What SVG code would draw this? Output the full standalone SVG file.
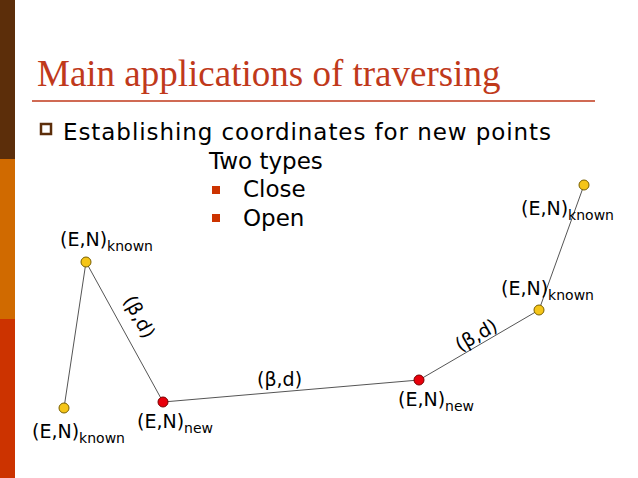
<svg xmlns="http://www.w3.org/2000/svg" width="638" height="478" viewBox="0 0 638 478">
<style>
.t{font-family:"DejaVu Sans",Verdana,sans-serif;fill:#000}
.b{font-size:23px}
.l{font-size:19px}
.s{font-size:14px}
.k{fill:#f5c518;stroke:#7a6000;stroke-width:1}
.n{fill:#e8000b;stroke:#7a0000;stroke-width:1}
.c line{stroke:#555;stroke-width:1}
</style>
<rect x="0" y="0" width="15" height="159" fill="#5c2e0a"/>
<rect x="0" y="159" width="15" height="160" fill="#d06a00"/>
<rect x="0" y="319" width="15" height="159" fill="#cc3300"/>
<text x="37" y="86" font-family="Liberation Serif,serif" font-size="37" fill="#c0391b">Main applications of traversing</text>
<line x1="32" y1="101" x2="595" y2="101" stroke="#c0391b" stroke-width="1.5"/>
<rect x="41" y="124" width="10" height="10" fill="none" stroke="#5c2e0a" stroke-width="2.5"/>
<text class="t b" x="63" y="140" textLength="488">Establishing coordinates for new points</text>
<text class="t b" x="209" y="169">Two types</text>
<rect x="212" y="186" width="8" height="8" fill="#cc3300"/>
<text class="t b" x="243" y="197">Close</text>
<rect x="212" y="214" width="8" height="8" fill="#cc3300"/>
<text class="t b" x="243" y="226">Open</text>
<g class="c" id="connectors">
<line x1="86" y1="262" x2="64" y2="408"/>
<line x1="86" y1="262" x2="163" y2="402"/>
<line x1="163" y1="402" x2="419" y2="380"/>
<line x1="419" y1="380" x2="539" y2="310"/>
<line x1="539" y1="310" x2="584" y2="185"/>
</g>
<g id="A"><circle class="k" cx="86" cy="262" r="5"/><text class="t l" x="60" y="246">(E,N)<tspan class="s" dy="5">known</tspan></text></g>
<g id="B"><circle class="k" cx="64" cy="408" r="5"/><text class="t l" x="32" y="438">(E,N)<tspan class="s" dy="5">known</tspan></text></g>
<g id="C"><circle class="n" cx="163" cy="402" r="5"/><text class="t l" x="137" y="428">(E,N)<tspan class="s" dy="5">new</tspan></text></g>
<g id="D"><circle class="n" cx="419" cy="380" r="5"/><text class="t l" x="398" y="406">(E,N)<tspan class="s" dy="5">new</tspan></text></g>
<g id="E"><circle class="k" cx="539" cy="310" r="5"/><text class="t l" x="501" y="295">(E,N)<tspan class="s" dy="5">known</tspan></text></g>
<g id="F"><circle class="k" cx="584" cy="185" r="5"/><text class="t l" x="521" y="215">(E,N)<tspan class="s" dy="5">known</tspan></text></g>
<text class="t l" transform="translate(123,300) rotate(62)">(β,d)</text>
<text class="t l" x="257" y="386">(β,d)</text>
<text class="t l" transform="translate(460,352) rotate(-30)">(β,d)</text>
</svg>
